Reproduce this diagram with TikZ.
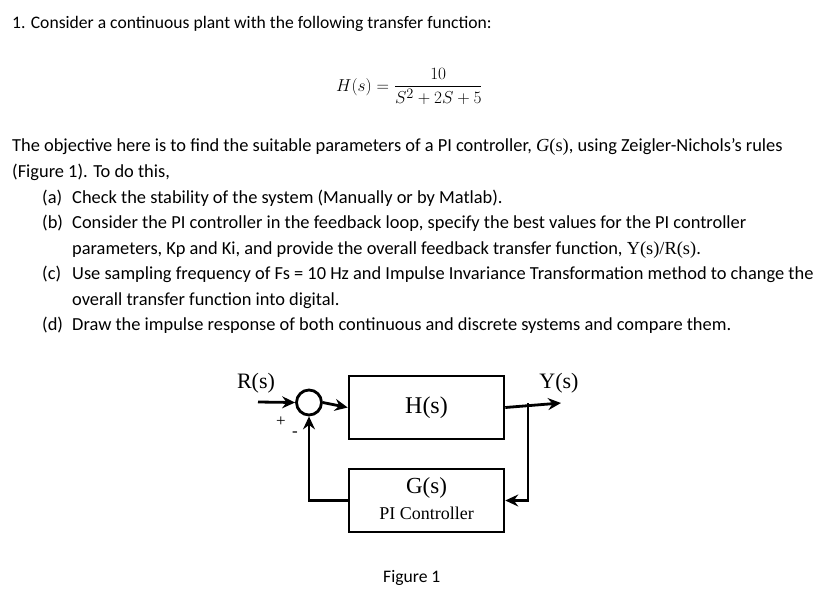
\documentclass[tikz,border=0pt]{standalone}
\usepackage{amsmath}
\usepackage{fontspec}
\setmainfont{Carlito}
\newfontfamily\tnr{Liberation Serif}
\usetikzlibrary{arrows.meta}
\usetikzlibrary{positioning}
\usetikzlibrary{shapes.geometric}

\tikzset{
  txt/.style={anchor=base west, inner sep=0pt, font=\fontsize{18.4}{21}\selectfont},
  blk/.style={draw, line width=2.6pt, minimum width=155pt, minimum height=63pt, inner sep=0pt},
  sig/.style={line width=2.8pt, -{Stealth[length=13pt, width=12pt, inset=4.5pt]}},
  lbl/.style={inner sep=0pt, font=\tnr\fontsize{22}{24}\selectfont}
}

\begin{document}
\begin{tikzpicture}[x=1pt, y=-1pt]
    \useasboundingbox (0, 0) rectangle (825, 598);

    % problem text
    \node[txt, font=\fontsize{17.6}{21}\selectfont] (head) at (12, 28) {1. Consider a continuous plant with the following transfer function:};
    \node[txt, font=\fontsize{19}{21}\selectfont] (eqn) at (336, 91) {$H(s)=\dfrac{10}{S^2+2S+5}$};

    \node[txt] (obj) at (12, 151) {The objective here is to find the suitable parameters of a PI controller, {\tnr\textit{G}(s)}, using Zeigler-Nichols’s rules};
    \node[txt] (obj2) at (12, 177) {(Figure 1). To do this,};

    \node[txt] (ia) at (42, 203) {(a)};
    \node[txt] (ta) at (72, 203) {Check the stability of the system (Manually or by Matlab).};
    \node[txt] (ib) at (42, 228) {(b)};
    \node[txt] (tb) at (72, 228) {Consider the PI controller in the feedback loop, specify the best values for the PI controller};
    \node[txt] (tb2) at (72, 254) {parameters, Kp and Ki, and provide the overall feedback transfer function, {\tnr Y(s)/R(s)}.};
    \node[txt] (ic) at (42, 279) {(c)};
    \node[txt] (tc) at (72, 279) {Use sampling frequency of Fs = 10 Hz and Impulse Invariance Transformation method to change the};
    \node[txt] (tc2) at (72, 305) {overall transfer function into digital.};
    \node[txt] (id) at (42, 330) {(d)};
    \node[txt] (td) at (72, 330) {Draw the impulse response of both continuous and discrete systems and compare them.};

    % block diagram
    \node[draw, ellipse, line width=2.8pt, minimum width=25pt, minimum height=25pt, inner sep=0pt] (sum) at (309, 402.5) {};
    \node[blk, font=\tnr\fontsize{24}{26}\selectfont] (plant) at (426.5, 407.5) {H(s)};
    \node[blk, font=\tnr\fontsize{23}{24}\selectfont, align=center, text depth=4pt] (ctrl) at (426.5, 500.5)
        {G(s)\\[2pt]{\fontsize{18}{20}\selectfont PI Controller}};

    \coordinate (rin) at (258, 402);
    \coordinate (yout) at (561, 403);
    \coordinate (br) at (528, 403);

    \draw[sig] (rin) -- (sum.west);
    \draw[sig] (sum.east) -- (plant.west);
    \draw[sig] (plant.east) -- (yout);
    \draw[sig] (br) |- (ctrl.east);
    \draw[sig] (ctrl.west) -| (sum.south);

    \node[lbl] (rlab) at (256, 383) {R(s)};
    \node[lbl] (ylab) at (559, 383) {Y(s)};
    \node[inner sep=0pt, font=\tnr\fontsize{17}{17}\selectfont] (plus) at (281, 422) {+};
    \node[inner sep=0pt, font=\tnr\fontsize{17}{17}\selectfont] (minus) at (295, 434) {-};

    \node[txt, font=\fontsize{17.6}{21}\selectfont] (cap) at (383, 582) {Figure 1};
\end{tikzpicture}
\end{document}
